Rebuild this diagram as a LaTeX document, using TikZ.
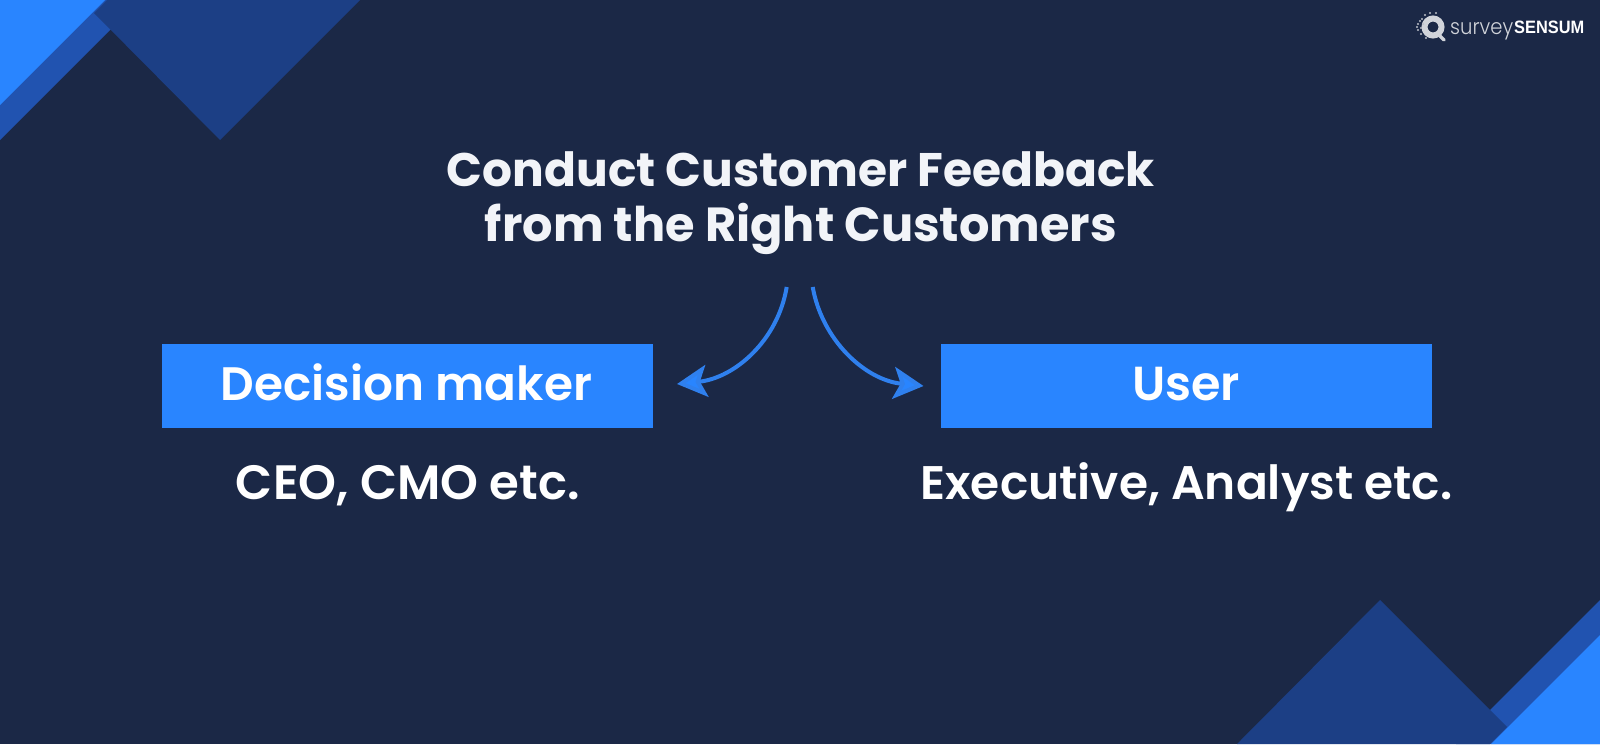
\documentclass[tikz,border=0pt]{standalone}
\usepackage{fontspec}
\setmainfont{Poppins}[UprightFont=* SemiBold,BoldFont=* Bold]
\newfontfamily\logolight{Poppins Light}
\newfontfamily\logobold{Liberation Sans}
\usetikzlibrary{arrows.meta}
\definecolor{bgnavy}{HTML}{1B2846}
\definecolor{brightblue}{HTML}{2985FF}
\definecolor{bandblue}{HTML}{2153B0}
\definecolor{deepblue}{HTML}{1C3F85}
\definecolor{arrowblue}{HTML}{2F80EE}
\definecolor{titlewhite}{HTML}{F2F4F8}
\tikzset{
  bluebox/.style={fill=brightblue,draw=none,inner sep=0pt,minimum width=491pt,minimum height=84pt},
  txt/.style={inner sep=0pt,anchor=base,text=white},
  curved/.style={draw=arrowblue,line width=4pt,-{Stealth[length=30pt,width=32pt,inset=7pt,fill=brightblue]}},
}
\newcommand{\fitw}[2]{\resizebox{#1pt}{!}{\fontsize{40}{48}\selectfont #2}}
\begin{document}
\begin{tikzpicture}[x=1pt,y=-1pt]
\useasboundingbox (0,0) rectangle (1600,744);
\fill[bgnavy] (0,0) rectangle (1600,744);
% top-left corner
\fill[bandblue] (0,140) -- (140,0) -- (0,0) -- cycle;
\fill[brightblue] (0,105) -- (105,0) -- (0,0) -- cycle;
\fill[deepblue] (107,0) -- (94,13) -- (220,140) -- (360,0) -- cycle;
% bottom-right corner
\fill[bandblue] (1600,600) -- (1456,744) -- (1600,744) -- cycle;
\fill[deepblue] (1380,600) -- (1237,744) -- (1490,744) -- (1507,727) -- cycle;
\fill[brightblue] (1600,635) -- (1491,744) -- (1600,744) -- cycle;
% title
\node[txt,text=titlewhite] (title1) at (801,186.5) {\fitw{708}{\bfseries Conduct Customer Feedback}};
\node[txt,text=titlewhite] (title2) at (801,241.5) {\fitw{632}{\bfseries from the Right Customers}};
% boxes
\node[bluebox] (dm) at (407,386) {};
\node[bluebox] (us) at (1186.5,386) {};
\node[txt] (dmt) at (406.5,400) {\fitw{371}{Decision maker}};
\node[txt] (ust) at (1186,400) {\fitw{108}{User}};
\node[txt] (ceo) at (408,499) {\fitw{344}{CEO, CMO etc.}};
\node[txt] (exe) at (1186.5,499) {\fitw{532}{Executive, Analyst etc.}};
% connectors
\coordinate (a1s) at (786.7,287);
\coordinate (a1e) at (677,384);
\coordinate (a2s) at (812.7,287);
\coordinate (a2e) at (923.5,386);
\draw[curved] (a1s) .. controls (778,340) and (735,378) .. (a1e);
\draw[curved] (a2s) .. controls (822,340) and (865,380) .. (a2e);
% logo
\draw[white!80!bgnavy,line width=6pt] (1433,27) circle (8.5pt);
\draw[white!80!bgnavy,line width=3.5pt,line cap=round] (1438,34) -- (1444,40);
\foreach \px/\py in {1418/24,1418/30,1422/19,1421/28,1417/27,1421/34,1425/15,1426/38,1423/24,1420/21,1430/13,1436/13}
  \fill[white!70!bgnavy] (\px,\py) circle (1.2pt);
\node[inner sep=0pt,anchor=base west,text=white!80!bgnavy] (lg1) at (1450,34.5) {\resizebox{63pt}{12pt}{\logolight survey}};
\node[inner sep=0pt,anchor=base west,text=white] (lg2) at (1514,34) {\resizebox{70pt}{12.5pt}{\logobold\bfseries SENSUM}};
\end{tikzpicture}
\end{document}
